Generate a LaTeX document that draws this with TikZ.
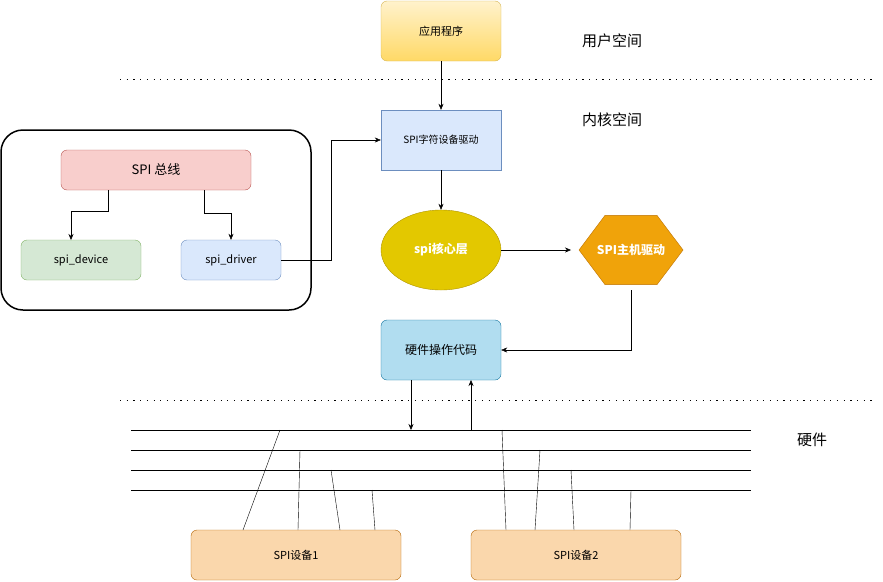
\documentclass[tikz,border=0pt]{standalone}
\usepackage{fontspec}
\setmainfont{Noto Sans CJK SC}
\usetikzlibrary{shapes.geometric,arrows.meta}
\definecolor{ylwA}{HTML}{FFF2CC}\definecolor{ylwB}{HTML}{FFD966}\definecolor{ylwD}{HTML}{D6B656}
\definecolor{bluF}{HTML}{DAE8FC}\definecolor{bluD}{HTML}{6C8EBF}
\definecolor{coreF}{HTML}{E3C800}\definecolor{coreD}{HTML}{B09500}
\definecolor{hostF}{HTML}{F0A30A}\definecolor{hostD}{HTML}{BD7000}
\definecolor{hwF}{HTML}{B1DDF0}\definecolor{hwD}{HTML}{10739E}
\definecolor{redF}{HTML}{F8CECC}\definecolor{redD}{HTML}{B85450}
\definecolor{grnF}{HTML}{D5E8D4}\definecolor{grnD}{HTML}{82B366}
\definecolor{devF}{HTML}{FAD7AC}\definecolor{devD}{HTML}{B46504}
\tikzset{
  box/.style={draw,rounded corners=6pt,minimum width=120pt,minimum height=60pt,inner sep=0pt,font=\fontsize{11}{13}\selectfont},
  arr/.style={-{Stealth[length=6pt,width=5pt]}},
  lbl/.style={font=\fontsize{15}{18}\selectfont}
}
\begin{document}
\begin{tikzpicture}[x=1pt,y=-1pt]
        \useasboundingbox (0,0) rectangle (883,581);
        \draw[line width=1pt,dotted,dash pattern=on 1.2pt off 5.5pt] (120,79)--(876,79);
        \draw[line width=1pt,dotted,dash pattern=on 1.2pt off 5.5pt] (120,400)--(876,400);
        \node[lbl] (user) at (612,41) {用户空间};
        \node[lbl] (kern) at (612,120) {内核空间};
        \node[lbl] (hw) at (812,440) {硬件};
        % upper stack
        \node[box,draw=ylwD,top color=ylwA,bottom color=ylwB] (app) at (441,31) {应用程序};
        \node[box,sharp corners,draw=bluD,fill=bluF,font=\fontsize{10}{12}\selectfont] (chr) at (441,140) {SPI字符设备驱动};
        \node[ellipse,draw=coreD,fill=coreF,minimum width=120pt,minimum height=80pt,text=white,font=\bfseries\fontsize{12}{14}\selectfont] (core) at (441,250) {spi核心层};
        \node[regular polygon,regular polygon sides=6,shape border rotate=0,draw=hostD,fill=hostF,minimum size=80pt,inner sep=0pt,xscale=1.3,text=white,font=\bfseries\fontsize{12}{14}\selectfont] (host) at (631,250) {\hspace{0pt}};
        \node[text=white,font=\bfseries\fontsize{12}{14}\selectfont] at (631,250) {SPI主机驱动};
        \node[box,draw=hwD,fill=hwF,font=\fontsize{12}{14}\selectfont] (hwop) at (441,350) {硬件操作代码};
        % bus framework
        \draw[line width=1.5pt,rounded corners=22pt] (1,130) rectangle (311,310);
        \node[box,draw=redD,fill=redF,minimum width=190pt,minimum height=40pt,font=\fontsize{13}{15}\selectfont] (bus) at (156,170) {SPI 总线};
        \node[box,draw=grnD,fill=grnF,minimum height=40pt] (sdev) at (81,260) {spi\_device};
        \node[box,draw=bluD,fill=bluF,minimum width=100pt,minimum height=40pt] (sdrv) at (231,260) {spi\_driver};
        \draw[arr] (108,190)--(108,211)--(71,211)--(71,240);
        \draw[arr] (204,190)--(204,213)--(231,213)--(sdrv.north);
        \draw[arr] (sdrv.east)--(331,260)--(331,140)--(chr.west);
        % main flow
        \draw[arr] (app)--(chr);
        \draw[arr] (chr)--(core);
        \draw[arr] (core)--(571,250);
        \draw[arr] (631,290)--(631,350)--(hwop.east);
        % hardware lines
        \foreach \y in {430,450,470,490}{
            \draw[line width=0.9pt] (131,\y)--(751,\y);
        }
        \draw[arr] (411,380)--(411,430);
        \draw[arr] (471,430)--(471,380);
        \node[box,draw=devD,fill=devF,minimum width=210pt,minimum height=50pt] (dev1) at (296,555) {SPI设备1};
        \node[box,draw=devD,fill=devF,minimum width=210pt,minimum height=50pt] (dev2) at (576,555) {SPI设备2};
        \foreach \a/\b/\y in {280/243/430, 300/298/450, 331/340/470, 372/375/490, 502/506/430, 540/535/450, 571/574/470, 631/630/490}{
            \draw (\a,\y)--(\b,530);
        }
    \end{tikzpicture}
\end{document}
